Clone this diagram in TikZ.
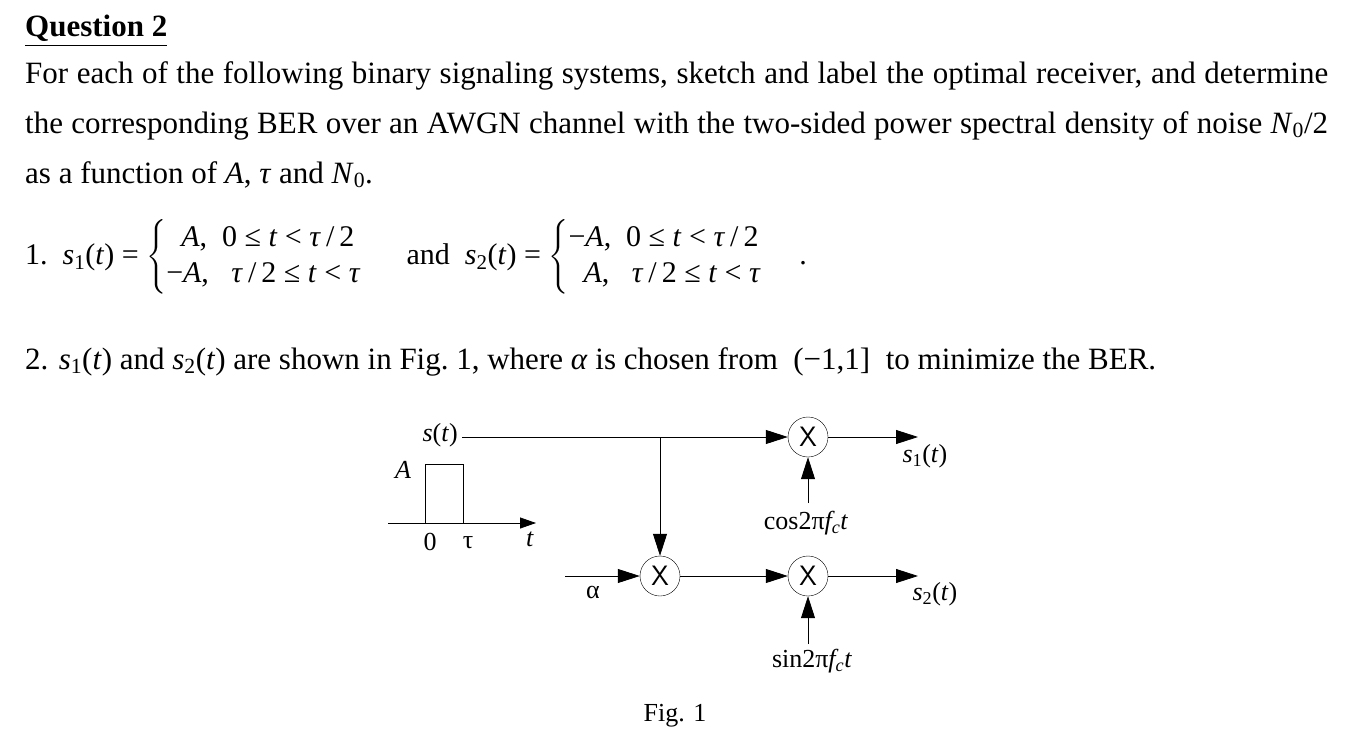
\RequirePackage{fix-cm}
\documentclass[tikz,border=0pt]{standalone}
\usepackage{amsmath}
\usepackage{fontspec}
\setmainfont{Liberation Serif}
\usetikzlibrary{arrows.meta}
\newcommand{\iv}[1]{\textit{#1}}
\begin{document}
\begin{tikzpicture}[x=1pt,y=-1pt,
  mult/.style={circle,draw,minimum size=40pt,inner sep=0pt,font=\fontsize{28}{28}\sffamily},
  sig/.style={-{Triangle[length=22pt,width=14pt]},line width=0.8pt},
  lbl/.style={font=\fontsize{26}{26}\selectfont,inner sep=0pt},
  txt/.style={anchor=base west,inner sep=0pt,font=\fontsize{31}{31}\selectfont}]
\useasboundingbox (0,0) rectangle (1349,746);
\node[txt,font=\fontsize{31}{31}\selectfont\bfseries] (q) at (25,37) {\underline{Question 2}};
\node[anchor=north west,inner sep=0pt,text width=1303pt,align=justify,
  font=\fontsize{31}{50}\selectfont] (p) at (25,61)
  {For each of the following binary signaling systems, sketch and label the optimal receiver, and determine the corresponding BER over an AWGN channel with the two-sided power spectral density of noise \iv{N}\textsubscript{0}/2 as a function of \iv{A}, \iv{τ} and \iv{N}\textsubscript{0}.};
\node[anchor=west,inner sep=0pt,font=\fontsize{30}{30}\selectfont] (e) at (25,257)
  {1.\ \ \iv{s}\textsubscript{1}(\iv{t}) = $\begin{cases}\text{\ \ \iv{A},\ \ 0 ≤ \iv{t} < \iv{τ}\,/\,2}\\ \text{−\iv{A},\ \ \ \iv{τ}\,/\,2 ≤ \iv{t} < \iv{τ}}\end{cases}$\ \ and\ \ \iv{s}\textsubscript{2}(\iv{t}) = $\begin{cases}\text{−\iv{A},\ \ 0 ≤ \iv{t} < \iv{τ}\,/\,2}\\ \text{\ \ \iv{A},\ \ \ \iv{τ}\,/\,2 ≤ \iv{t} < \iv{τ}}\end{cases}$\ .};
\node[txt] (l2) at (25,369) {2. \iv{s}\textsubscript{1}(\iv{t}) and \iv{s}\textsubscript{2}(\iv{t}) are shown in Fig.~1, where \iv{α} is chosen from \ (−1,1]\ \ to minimize the BER.};
% diagram
\node[mult] (m1) at (808,437) {X};
\node[mult] (m2) at (660,576) {X};
\node[mult] (m3) at (808,576) {X};
\node[lbl,anchor=east] (st) at (458,435) {\iv{s}(\iv{t})};
\coordinate (br) at (660,437);
\draw[line width=0.8pt] (st.east) ++(4,2) -- (br);
\draw[sig] (br) -- (m1.west);
\draw[sig] (br) -- (m2.north);
\coordinate (o1) at (918,437);
\draw[sig] (m1.east) -- (o1);
\node[lbl] (s1) at (925,456) {\iv{s}\textsubscript{1}(\iv{t})};
\coordinate (ai) at (565,576);
\draw[sig] (ai) -- (m2.west);
\node[lbl] (al) at (593,592) {α};
\draw[sig] (m2.east) -- (m3.west);
\coordinate (o2) at (918,576);
\draw[sig] (m3.east) -- (o2);
\node[lbl] (s2) at (935,594) {\iv{s}\textsubscript{2}(\iv{t})};
\node[lbl] (cs) at (806,523) {cos2π\iv{f\textsubscript{c}t}};
\draw[sig] (808,503) -- (m1.south);
\node[lbl] (sn) at (812,661) {sin2π\iv{f\textsubscript{c}t}};
\draw[sig] (808,644) -- (m3.south);
% pulse
\coordinate (ax0) at (388,523);
\coordinate (ax1) at (536,523);
\draw[-{Triangle[length=16pt,width=11pt]},line width=0.8pt] (ax0) -- (ax1);
\draw[line width=0.8pt] (425,523) -- (425,464) -- (463,464) -- (463,523);
\node[lbl] (A) at (403,470) {\iv{A}};
\node[lbl] (z) at (430,542) {0};
\node[lbl] (ta) at (468,543) {τ};
\node[lbl] (t) at (530,539) {\iv{t}};
\node[lbl] (fig) at (675,716) {Fig. 1};
\end{tikzpicture}
\end{document}
